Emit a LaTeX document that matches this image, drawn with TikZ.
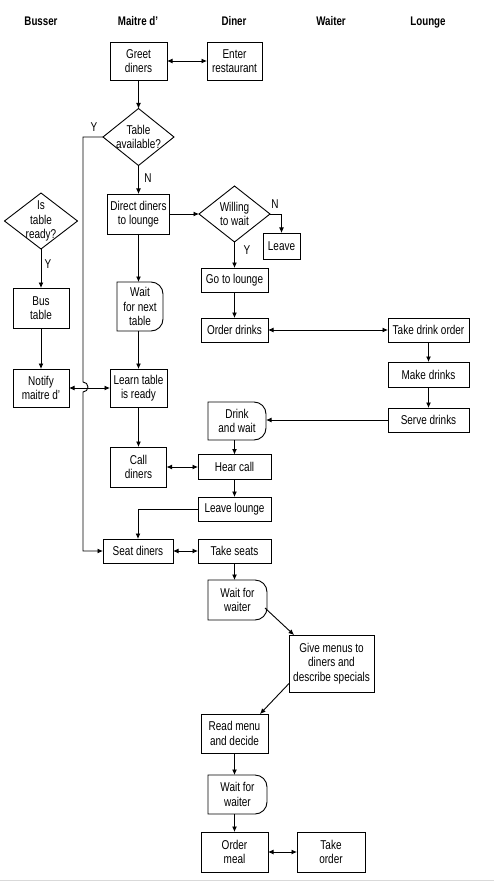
\documentclass[tikz,border=0pt]{standalone}
\usepackage{fontspec}
\setmainfont{Liberation Sans}[FakeStretch=0.78]
\usetikzlibrary{shapes.geometric,arrows.meta,calc}
\newcommand{\dlyoutline}[1]{\draw[ln] (#1.south west) -- (#1.north west) -- ([xshift=-12pt]#1.north east) arc[start angle=90,end angle=0,radius=12pt] -- ([yshift=12pt]#1.south east) arc[start angle=0,end angle=-90,radius=12pt] -- cycle;}
\begin{document}
\begin{tikzpicture}[x=1pt,y=-1pt,
 every node/.style={font=\fontsize{12.8}{14.5}\selectfont, outer sep=0pt},
 ln/.style={line width=0.9pt},
 box/.style={draw, ln, rectangle, inner sep=1pt, align=center},
 dlyb/.style={inner sep=1pt, align=center},
 dia/.style={draw, ln, diamond, inner sep=0pt},
 dtxt/.style={inner sep=0pt, align=center},
 lbl/.style={inner sep=0pt},
 hdr/.style={font=\bfseries\fontsize{12.5}{14}\selectfont, anchor=base},
 arr/.style={ln, -{Latex[length=5.5pt,width=5pt]}},
 darr/.style={ln, {Latex[length=5.5pt,width=5pt]}-{Latex[length=5.5pt,width=5pt]}},
]
\useasboundingbox (0,0) rectangle (494,885);
% headers
\node[hdr] (h1) at (41,26) {Busser};
\node[hdr] (h2) at (138,26) {Maitre d'};
\node[hdr] (h3) at (234,26) {Diner};
\node[hdr] (h4) at (331,26) {Waiter};
\node[hdr] (h5) at (428,26) {Lounge};
% nodes
\node[box, minimum width=57, minimum height=38] (greet) at (138.5,61) {Greet\\diners};
\node[box, minimum width=55, minimum height=38] (enter) at (234.5,61) {Enter\\restaurant};
\node[dia, minimum width=71, minimum height=57] (d1) at (138.5,137) {};
\node[dtxt] (d1t) at (d1) {Table\\available?};
\node[box, minimum width=62, minimum height=40] (direct) at (138.5,214) {Direct diners\\to lounge};
\node[dia, minimum width=71, minimum height=56] (d2) at (234.5,214) {};
\node[dtxt] (d2t) at (d2) {Willing\\to wait};
\node[box, minimum width=37, minimum height=26] (leave) at (281.5,246) {Leave};
\node[box, minimum width=67, minimum height=24] (golounge) at (234.5,280) {Go to lounge};
\node[box, minimum width=67, minimum height=24] (orderdr) at (234.5,330) {Order drinks};
\node[box, minimum width=81, minimum height=24] (takedr) at (428.5,330) {Take drink order};
\node[box, minimum width=81, minimum height=25] (make) at (428.5,374.5) {Make drinks};
\node[box, minimum width=81, minimum height=24] (serve) at (428.5,420) {Serve drinks};
\node[dia, minimum width=73, minimum height=56] (d3) at (41,221) {};
\node[dtxt] (d3t) at (d3) {Is\\table\\ready?};
\node[box, minimum width=56, minimum height=40] (bus) at (41,308) {Bus\\table};
\node[box, minimum width=56, minimum height=38] (notify) at (41,388) {Notify\\maitre d'};
\node[dlyb, minimum width=46, minimum height=49] (waitnext) at (140,306.5) {Wait\\for next\\table};
\dlyoutline{waitnext}
\node[box, minimum width=57, minimum height=38] (learn) at (138.5,388) {Learn table\\is ready};
\node[dlyb, minimum width=58, minimum height=38] (drink) at (237,421) {Drink\\and wait};
\dlyoutline{drink}
\node[box, minimum width=56, minimum height=40] (call) at (138.5,467) {Call\\diners};
\node[box, minimum width=73, minimum height=25] (hear) at (234.5,467) {Hear call};
\node[box, minimum width=73, minimum height=24] (leavel) at (234.5,509) {Leave lounge};
\node[box, minimum width=70, minimum height=24] (seat) at (138,551) {Seat diners};
\node[box, minimum width=73, minimum height=24] (take) at (234.5,551) {Take seats};
\node[dlyb, minimum width=59, minimum height=40] (wait1) at (237.5,600) {Wait for\\waiter};
\dlyoutline{wait1}
\node[box, minimum width=85, minimum height=57] (give) at (331.5,663.5) {Give menus to\\diners and\\describe specials};
\node[box, minimum width=67, minimum height=39] (read) at (234.5,733.5) {Read menu\\and decide};
\node[dlyb, minimum width=59, minimum height=39] (wait2) at (237.5,794.5) {Wait for\\waiter};
\dlyoutline{wait2}
\node[box, minimum width=67, minimum height=40] (ordermeal) at (234.5,852) {Order\\meal};
\node[box, minimum width=68, minimum height=40] (takeorder) at (331,852) {Take\\order};
% labels
\node[lbl] (ly1) at (94,127) {Y};
\node[lbl] (ln1) at (148,178) {N};
\node[lbl] (ln2) at (275,204) {N};
\node[lbl] (ly2) at (247,250) {Y};
\node[lbl] (ly3) at (48,264) {Y};
% coordinates
\coordinate (ya) at (83,137);
\coordinate (hopT) at (83,382);
\coordinate (yb) at (83,551);
\coordinate (gl) at (0,880);
\coordinate (gr) at (494,880);
% connectors
\draw[darr] (greet.east) -- (enter.west);
\draw[arr] (greet.south) -- (d1.north);
\draw[arr] (d1.west) -- (ya) -- (hopT) arc[start angle=90,end angle=-90,radius=5pt] -- (yb) -- (seat.west);
\draw[arr] (d1.south) -- (direct.north);
\draw[arr] (direct.east) -- (d2.west);
\draw[arr] (d2.east) -| (leave.north);
\draw[arr] (d2.south) -- (golounge.north);
\draw[arr] (golounge.south) -- (orderdr.north);
\draw[darr] (orderdr.east) -- (takedr.west);
\draw[arr] (takedr.south) -- (make.north);
\draw[arr] (make.south) -- (serve.north);
\draw[arr] (serve.west) -- (serve.west -| drink.east);
\draw[arr] (direct.south) -- (direct.south |- waitnext.north);
\draw[arr] (learn.north |- waitnext.south) -- (learn.north);
\draw[arr] (d3.south) -- (bus.north);
\draw[arr] (bus.south) -- (notify.north);
\draw[darr] (notify.east) -- (learn.west);
\draw[arr] (learn.south) -- (call.north);
\draw[darr] (call.east) -- (hear.west);
\draw[arr] (hear.north |- drink.south) -- (hear.north);
\draw[arr] (hear.south) -- (leavel.north);
\draw[arr] (leavel.west) -| (seat.north);
\draw[darr] (seat.east) -- (take.west);
\draw[arr] (take.south) -- (take.south |- wait1.north);
\draw[arr] ([xshift=-2pt,yshift=-8pt]wait1.east) -- ([xshift=5pt]give.north west);
\draw[arr] ([yshift=-20pt]give.west) -- ([xshift=-8pt]read.north east);
\draw[arr] (read.south) -- (read.south |- wait2.north);
\draw[arr] (ordermeal.north |- wait2.south) -- (ordermeal.north);
\draw[darr] (ordermeal.east) -- (takeorder.west);
\draw[gray!30, line width=1pt] (gl) -- (gr);
\end{tikzpicture}
\end{document}
